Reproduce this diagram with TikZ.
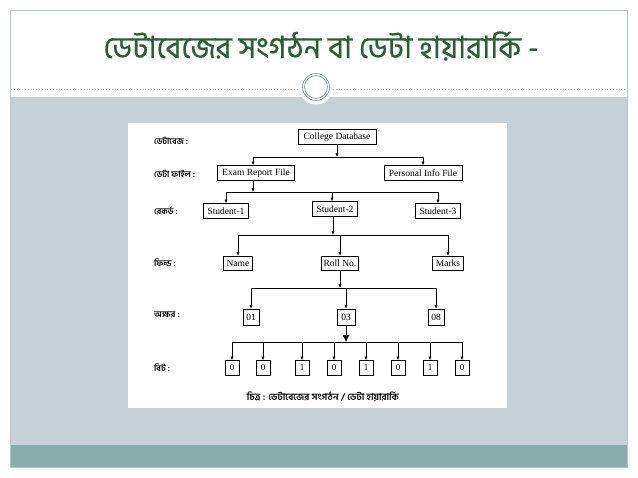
\documentclass[tikz,border=0pt]{standalone}
\usepackage{fontspec}
\setmainfont{Liberation Serif}
\newfontfamily\bn[Script=Bengali]{Hind Siliguri}
\newfontfamily\bntitle[Script=Bengali,FakeBold=0.6]{Hind Siliguri}
\usetikzlibrary{arrows.meta,calc}
\definecolor{slidegray}{HTML}{C5D1D7}
\definecolor{slideteal}{HTML}{89ACAC}
\definecolor{framecol}{HTML}{B5C7C8}
\definecolor{ringcol}{HTML}{7F9B9B}
\definecolor{titlegreen}{HTML}{2A5E34}
\tikzset{
  box/.style={draw=black, line width=0.6pt, inner sep=0pt, minimum height=15pt, font=\fontsize{9.5}{10}\selectfont},
  bitbox/.style={box, minimum width=14pt, minimum height=15pt, font=\fontsize{9}{10}\selectfont},
  lbl/.style={anchor=west, inner sep=0pt, font=\bn\bfseries\fontsize{8.5}{10}\selectfont},
  link/.style={line width=0.6pt},
  arr/.style={line width=0.6pt, -{Latex[length=3.5pt,width=3pt]}},
  bigarr/.style={line width=0.6pt, -{Latex[length=7pt,width=7pt]}}
}
\begin{document}
\begin{tikzpicture}[x=1pt,y=-1pt]
\useasboundingbox (0,0) rectangle (638,478);
% slide background
\fill[white] (0,0) rectangle (638,478);
\fill[slidegray] (10.5,97) rectangle (627.5,445);
\fill[slideteal] (10.5,445) rectangle (627.5,467);
\draw[framecol, line width=0.8pt] (10.5,10.5) rectangle (627.5,467);
\draw[ringcol!70, line width=0.8pt, dotted] (11,89) -- (627,89);
\fill[white] (316,87) circle (17.5);
\draw[ringcol, line width=0.7pt] (316,87) circle (13.5);
\draw[ringcol, line width=0.7pt] (316,87) circle (11.5);
% title
\node[text=titlegreen, font=\bntitle\fontsize{30.5}{34}\selectfont, inner sep=0pt] (title) at (321,46) {ডেটাবেজের সংগঠন বা ডেটা হায়ারার্কি -};
% picture area
\fill[white] (128,123) rectangle (507,408);
% level labels
\node[lbl] (l1) at (154,141) {ডেটাবেজ :};
\node[lbl] (l2) at (154,174) {ডেটা ফাইল :};
\node[lbl] (l3) at (154,211) {রেকর্ড :};
\node[lbl] (l4) at (154,263) {ফিল্ড :};
\node[lbl] (l5) at (154,315) {অক্ষর :};
\node[lbl] (l6) at (154,368) {বিট :};
% nodes
\node[box, minimum width=78pt] (cdb) at (337,137) {College Database};
\node[box, minimum width=77pt] (erf) at (256,173) {Exam Report File};
\node[box, minimum width=78pt] (pif) at (423,173) {Personal Info File};
\node[box, minimum width=45pt] (s1) at (226,211) {Student-1};
\node[box, minimum width=45pt] (s2) at (335,209) {Student-2};
\node[box, minimum width=45pt] (s3) at (438,211) {Student-3};
\node[box, minimum width=29pt, minimum height=14pt] (name) at (238,263) {Name};
\node[box, minimum width=37pt, minimum height=14pt] (roll) at (340,263) {Roll No.};
\node[box, minimum width=31pt, minimum height=14pt] (marks) at (448,263) {Marks};
\node[box, minimum width=16pt, minimum height=16pt] (c01) at (251,317) {01};
\node[box, minimum width=18pt, minimum height=16pt] (c03) at (346,317) {03};
\node[box, minimum width=16pt, minimum height=16pt] (c08) at (436,317) {08};
\node[bitbox] (b1) at (232,368) {0};
\node[bitbox] (b2) at (263,368) {0};
\node[bitbox] (b3) at (302,368) {1};
\node[bitbox] (b4) at (334,368) {0};
\node[bitbox] (b5) at (366,368) {1};
\node[bitbox] (b6) at (398,368) {0};
\node[bitbox] (b7) at (430,368) {1};
\node[bitbox] (b8) at (462,368) {0};
% bus lines
\coordinate (y1) at (0,157);
\coordinate (y2) at (0,192);
\coordinate (y3) at (0,235);
\coordinate (y4) at (0,288);
\coordinate (y5) at (0,342);
% level 1
\draw[arr] (cdb.south) -- (cdb.south |- y1);
\draw[link] ($(erf.north |- y1)+(-3,0)$) -- ($(pif.north |- y1)$);
\draw[arr] ($(erf.north |- y1)+(-3,0)$) -- ($(erf.north)+(-3,0)$);
\draw[arr] (pif.north |- y1) -- (pif.north);
% level 2
\draw[arr] ($(erf.south)+(-3,0)$) -- ($(erf.south |- y2)+(-3,0)$);
\draw[link] (s1.north |- y2) -- (s3.north |- y2);
\draw[arr] (s1.north |- y2) -- (s1.north);
\draw[arr] ($(s2.north |- y2)+(-3,0)$) -- ($(s2.north)+(-3,0)$);
\draw[arr] (s3.north |- y2) -- (s3.north);
% level 3
\draw[arr] ($(s2.south)+(-2,0)$) -- ($(s2.south |- y3)+(-2,0)$);
\draw[link] (name.north |- y3) -- (marks.north |- y3);
\draw[arr] (name.north |- y3) -- (name.north);
\draw[arr] (roll.north |- y3) -- (roll.north);
\draw[arr] (marks.north |- y3) -- (marks.north);
% level 4
\draw[arr] (roll.south) -- (roll.south |- y4);
\draw[link] (c01.north |- y4) -- (c08.north |- y4);
\draw[arr] (c01.north |- y4) -- (c01.north);
\draw[arr] (c03.north |- y4) -- (c03.north);
\draw[arr] (c08.north |- y4) -- (c08.north);
% level 5
\draw[bigarr] (c03.south) -- (c03.south |- y5);
\draw[link] (b1.north |- y5) -- (b8.north |- y5);
\foreach \b in {b1,b2,b3,b4,b5,b6,b7,b8}
  \draw[arr] (\b.north |- y5) -- (\b.north);
% caption
\node[font=\bn\bfseries\fontsize{9.5}{11}\selectfont, inner sep=0pt] (cap) at (323,397) {চিত্র : ডেটাবেজের সংগঠন / ডেটা হায়ারার্কি};
\end{tikzpicture}
\end{document}
